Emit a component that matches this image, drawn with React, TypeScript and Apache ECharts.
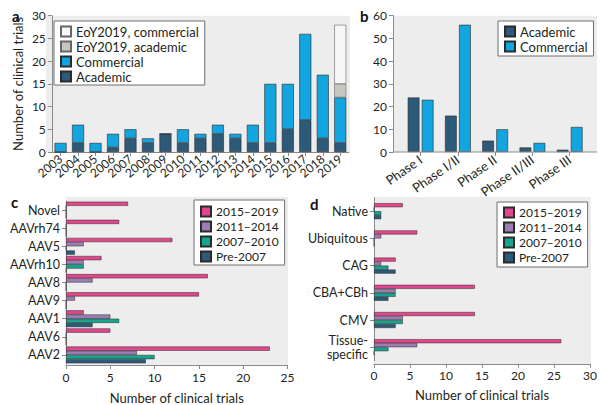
import React, { useEffect, useRef } from 'react';
import * as echarts from 'echarts';

// Panel a: trials per year
const years = ['2003','2004','2005','2006','2007','2008','2009','2010','2011','2012','2013','2014','2015','2016','2017','2018','2019'];
const academicByYear = [0, 2, 0, 1, 3, 2, 4, 2, 3, 4, 3, 2, 2, 5, 7, 3, 2];
const commercialByYear = [2, 4, 2, 3, 2, 1, 0, 3, 1, 2, 1, 4, 13, 10, 19, 14, 10];
const eoyAcademicByYear = [null, null, null, null, null, null, null, null, null, null, null, null, null, null, null, null, 3];
const eoyCommercialByYear = [null, null, null, null, null, null, null, null, null, null, null, null, null, null, null, null, 13];

// Panel b: trial phases
const phases = ['Phase I', 'Phase I/II', 'Phase II', 'Phase II/III', 'Phase III'];
const academicByPhase = [24, 16, 5, 2, 1];
const commercialByPhase = [23, 56, 10, 4, 11];

// Panel c: capsids (top to bottom)
const capsids = ['Novel', 'AAVrh74', 'AAV5', 'AAVrh10', 'AAV8', 'AAV9', 'AAV1', 'AAV6', 'AAV2'];
const capsid2015 = [7, 6, 12, 4, 16, 15, 2, 5, 23];
const capsid2011 = [0, 0, 2, 2, 3, 1, 5, 0, 8];
const capsid2007 = [0, 0, 0, 2, 0, 0, 6, 0, 10];
const capsidPre2007 = [0, 0, 1, 0, 0, 0, 3, 0, 9];

// Panel d: promoters (top to bottom)
const promoters = ['Native', 'Ubiquitous', 'CAG', 'CBA+CBh', 'CMV', 'Tissue-\nspecific'];
const promoter2015 = [4, 6, 3, 14, 14, 26];
const promoter2011 = [0, 1, 1, 3, 4, 6];
const promoter2007 = [1, 0, 2, 3, 4, 2];
const promoterPre2007 = [1, 0, 3, 2, 3, 0];

const periodNames = ['2015\u20132019', '2011\u20132014', '2007\u20132010', 'Pre-2007'];
const periodColors = ['#e3468b', '#9c7db5', '#17a68d', '#2c5a78'];

const FONT = 'Lato';
const TXT = '#231f20';
const AXIS = '#8a8a8a';
const ACAD = '#2c5a78';
const COMM = '#12a5e0';
const BORDER = '#2a2a2a';

const axisLine = { show: true, lineStyle: { color: AXIS, width: 1 } };
const axisTick = { show: true, length: 4, lineStyle: { color: AXIS } };
const lbl = (size: number) => ({ fontFamily: FONT, fontSize: size, color: TXT });

function legend(left: number, top: number, data: string[], fontSize: number, gap: number, padding: number[]) {
  return {
    orient: 'vertical', left, top, data, icon: 'rect', itemWidth: 10, itemHeight: 10, itemGap: gap,
    backgroundColor: '#fff', borderColor: '#6e6e6e', borderWidth: 1, borderRadius: 0, padding,
    textStyle: { fontFamily: FONT, fontSize, color: TXT, lineHeight: 13 },
    selectedMode: false,
  };
}

export default function App() {
  const ref = useRef<HTMLDivElement>(null);
  useEffect(() => {
    const chart = echarts.init(ref.current!, null, { renderer: 'svg' });
    const option: any = {
      animation: false,
      textStyle: { fontFamily: FONT },
      graphic: [
        { type: 'rect', z: -100, shape: { x: 46, y: 15.7, width: 304, height: 136.3 }, style: { fill: '#ededed' }, silent: true },
        { type: 'rect', z: -100, shape: { x: 393, y: 15.7, width: 204, height: 136.3 }, style: { fill: '#ededed' }, silent: true },
        { type: 'rect', z: -100, shape: { x: 66, y: 197, width: 222, height: 168 }, style: { fill: '#ededed' }, silent: true },
        { type: 'rect', z: -100, shape: { x: 374, y: 197, width: 217, height: 167 }, style: { fill: '#ededed' }, silent: true },
        { type: 'line', z: 50, shape: { x1: 393, y1: 152, x2: 597, y2: 152 }, style: { stroke: AXIS, lineWidth: 1 }, silent: true },
        { type: 'text', x: 12, y: 8, style: { text: 'a', fontFamily: FONT, fontWeight: 'bold', fontSize: 15, fill: '#111' } },
        { type: 'text', x: 360, y: 8, style: { text: 'b', fontFamily: FONT, fontWeight: 'bold', fontSize: 15, fill: '#111' } },
        { type: 'text', x: 11, y: 194, style: { text: 'c', fontFamily: FONT, fontWeight: 'bold', fontSize: 15, fill: '#111' } },
        { type: 'text', x: 310, y: 196, style: { text: 'd', fontFamily: FONT, fontWeight: 'bold', fontSize: 15, fill: '#111' } },
      ],
      legend: [
        legend(54, 21, ['EoY2019, commercial', 'EoY2019, academic', 'Commercial', 'Academic'], 13, 2, [4, 6, 2, 6]),
        legend(498, 21, ['Academic', 'Commercial'], 13, 2, [4, 6, 3, 6]),
        legend(194, 200, periodNames, 12, 2, [5, 6, 2, 6]),
        legend(497, 202, periodNames, 12, 2, [4, 6, 3, 6]),
      ],
      grid: [
        { left: 46, top: 15.7, width: 303, height: 136.3 },
        { left: 402, top: 15.7, width: 186.3, height: 136.3 },
        { left: 66, top: 201, width: 221.5, height: 163 },
        { left: 374, top: 197.6, width: 216, height: 163.2 },
      ],
      xAxis: [
        { gridIndex: 0, type: 'category', data: years, axisLine, axisTick: { ...axisTick, alignWithLabel: true },
          axisLabel: { ...lbl(12), rotate: 40, margin: 5, interval: 0 } },
        { gridIndex: 1, type: 'category', data: phases, axisLine: { show: false }, axisTick: { ...axisTick, alignWithLabel: true },
          axisLabel: { ...lbl(13), rotate: 35, margin: 6, interval: 0 } },
        { gridIndex: 2, type: 'value', min: 0, max: 25, interval: 5, offset: 1, axisLine, axisTick, splitLine: { show: false },
          axisLabel: { ...lbl(12), margin: 6 },
          name: 'Number of clinical trials', nameLocation: 'middle', nameGap: 26,
          nameTextStyle: { fontFamily: FONT, fontSize: 13, color: TXT } },
        { gridIndex: 3, type: 'value', min: 0, max: 30, interval: 5, offset: 3, axisLine, axisTick, splitLine: { show: false },
          axisLabel: { ...lbl(12), margin: 6 },
          name: 'Number of clinical trials', nameLocation: 'middle', nameGap: 25,
          nameTextStyle: { fontFamily: FONT, fontSize: 13, color: TXT } },
      ],
      yAxis: [
        { gridIndex: 0, type: 'value', min: 0, max: 30, interval: 5, axisLine, axisTick, splitLine: { show: false },
          axisLabel: { ...lbl(12), margin: 6 },
          name: 'Number of clinical trials', nameLocation: 'middle', nameGap: 27,
          nameTextStyle: { fontFamily: FONT, fontSize: 13, color: TXT } },
        { gridIndex: 1, type: 'value', min: 0, max: 60, interval: 10, offset: 9, axisLine, axisTick, splitLine: { show: false },
          axisLabel: { ...lbl(12), margin: 6 } },
        { gridIndex: 2, type: 'category', data: capsids, inverse: true, axisLine, axisTick: { ...axisTick, alignWithLabel: true },
          axisLabel: { ...lbl(12.5), margin: 6, interval: 0 } },
        { gridIndex: 3, type: 'category', data: promoters, inverse: true, axisLine, axisTick: { ...axisTick, alignWithLabel: true },
          axisLabel: { ...lbl(12.5), margin: 6, interval: 0, lineHeight: 14, align: 'right' } },
      ],
      series: [
        { name: 'Academic', type: 'bar', xAxisIndex: 0, yAxisIndex: 0, stack: 'yr', barWidth: 12, data: academicByYear,
          itemStyle: { color: ACAD, borderColor: BORDER, borderWidth: 0.6 } },
        { name: 'Commercial', type: 'bar', xAxisIndex: 0, yAxisIndex: 0, stack: 'yr', barWidth: 12, data: commercialByYear,
          itemStyle: { color: COMM, borderColor: BORDER, borderWidth: 0.6 } },
        { name: 'EoY2019, academic', type: 'bar', xAxisIndex: 0, yAxisIndex: 0, stack: 'yr', barWidth: 12, data: eoyAcademicByYear,
          itemStyle: { color: '#c6c7bf', borderColor: '#666', borderWidth: 0.6 } },
        { name: 'EoY2019, commercial', type: 'bar', xAxisIndex: 0, yAxisIndex: 0, stack: 'yr', barWidth: 12, data: eoyCommercialByYear,
          itemStyle: { color: '#f7f7f7', borderColor: '#666', borderWidth: 0.6 } },

        { name: 'Academic', type: 'bar', xAxisIndex: 1, yAxisIndex: 1, barWidth: 11.7, barGap: '20%', data: academicByPhase,
          itemStyle: { color: ACAD, borderColor: BORDER, borderWidth: 0.6 } },
        { name: 'Commercial', type: 'bar', xAxisIndex: 1, yAxisIndex: 1, barWidth: 11.7, barGap: '20%', data: commercialByPhase,
          itemStyle: { color: COMM, borderColor: BORDER, borderWidth: 0.6 } },

        ...[capsid2015, capsid2011, capsid2007, capsidPre2007].map((d, i) => ({
          name: periodNames[i], type: 'bar', xAxisIndex: 2, yAxisIndex: 2, barWidth: 4.2, barGap: '0%', data: d,
          itemStyle: { color: periodColors[i], borderColor: BORDER, borderWidth: 0.5 },
        })),
        ...[promoter2015, promoter2011, promoter2007, promoterPre2007].map((d, i) => ({
          name: periodNames[i], type: 'bar', xAxisIndex: 3, yAxisIndex: 3, barWidth: 4, barGap: '0%', data: d,
          itemStyle: { color: periodColors[i], borderColor: BORDER, borderWidth: 0.5 },
        })),
      ],
    };
    chart.setOption(option);
    return () => chart.dispose();
  }, []);
  return <div ref={ref} style={{ position: 'fixed', left: 0, top: 0, width: 602, height: 405, background: '#fff' }} />;
}
